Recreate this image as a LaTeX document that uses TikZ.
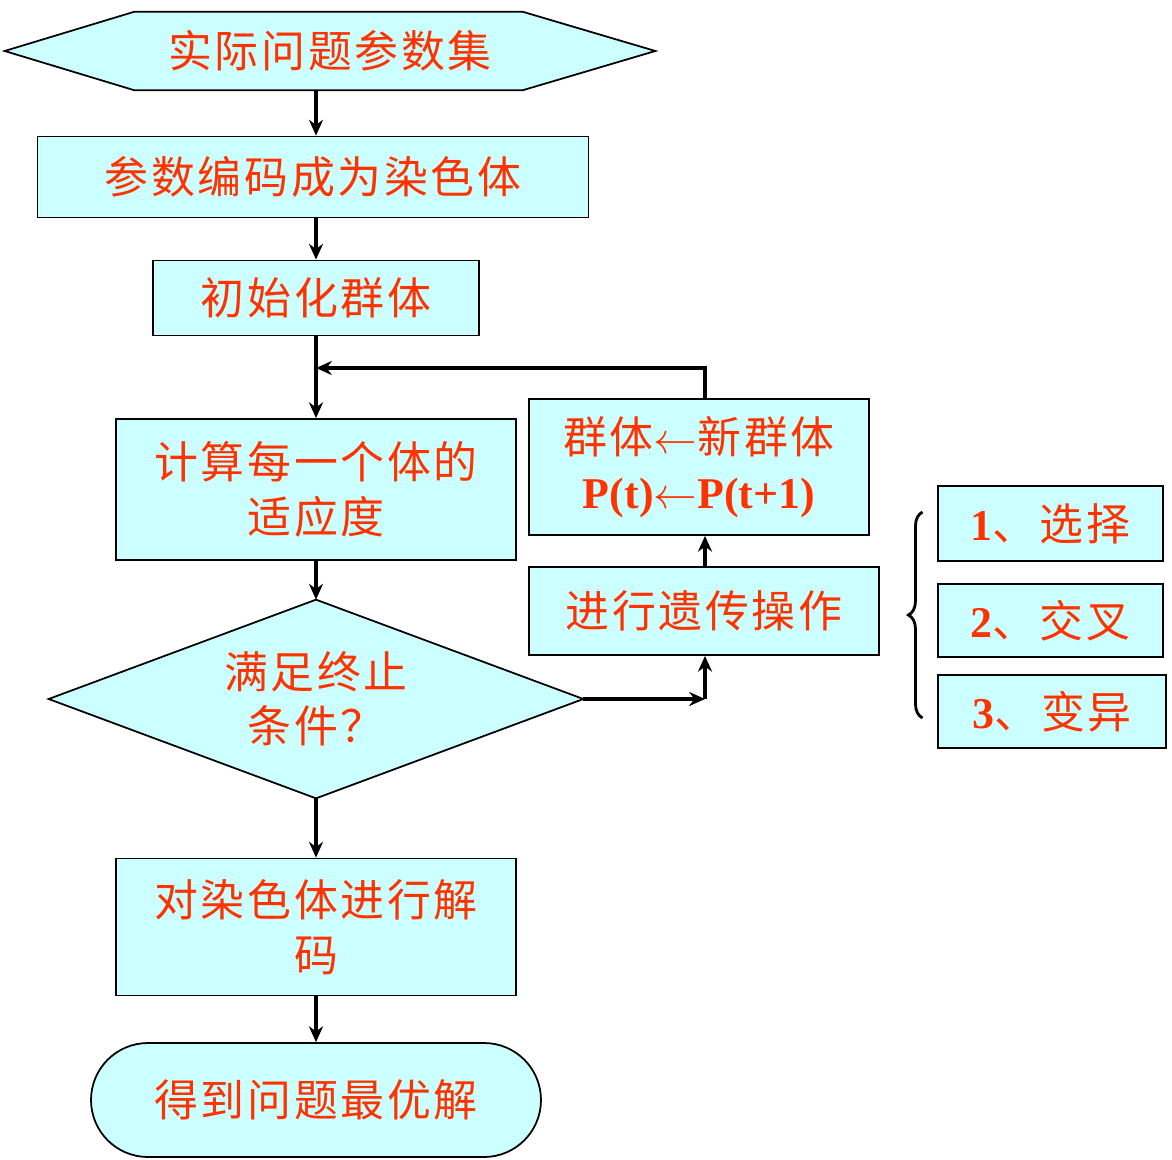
\documentclass[tikz,border=0pt]{standalone}
\usepackage{fontspec}
\setmainfont{Liberation Serif}
\newfontfamily\cjk[LetterSpace=6]{Noto Sans CJK SC}
\usetikzlibrary{arrows.meta, positioning, decorations.pathreplacing}
\definecolor{boxfill}{HTML}{CCFFFF}
\definecolor{txtred}{HTML}{FF3300}
\tikzstyle{stepbox}=[rectangle, draw=black, fill=boxfill, line width=1pt, text=txtred, align=center, font=\cjk\fontsize{25}{31}\selectfont]
\tikzstyle{bare}=[text=txtred, align=center, font=\cjk\fontsize{25}{31}\selectfont, inner sep=0pt]
\tikzstyle{flow}=[line width=2.2pt, -{Stealth[length=9pt,width=8pt]}]

\begin{document}
\begin{tikzpicture}
      \useasboundingbox (0,0) rectangle (23.44,-23.18);
      % main column
      \node[bare, minimum width=13cm, minimum height=1.56cm] (start) at (6.6,-1.02) {};
      \draw[fill=boxfill, line width=1pt] (start.west) -- ([xshift=2.6cm]start.north west) -- ([xshift=-2.66cm]start.north east)
            -- (start.east) -- ([xshift=-2.66cm]start.south east) -- ([xshift=2.6cm]start.south west) -- cycle;
      \node[bare] at (start) {实际问题参数集};
      \node[stepbox, minimum width=11.02cm, minimum height=1.62cm] (code) at (6.26,-3.54) {参数编码成为染色体};
      \node[stepbox, minimum width=6.52cm, minimum height=1.5cm] (init) at (6.32,-5.96) {初始化群体};
      \node[stepbox, minimum width=8cm, minimum height=2.82cm] (fit) at (6.32,-9.79) {计算每一个体的\\适应度};
      \node[bare, minimum width=10.68cm, minimum height=3.96cm] (cond) at (6.32,-13.98) {};
      \draw[fill=boxfill, line width=1pt] (cond.west) -- (cond.north) -- (cond.east) -- (cond.south) -- cycle;
      \node[bare] at (cond) {满足终止\\条件？};
      \node[stepbox, minimum width=8cm, minimum height=2.74cm] (dec) at (6.32,-18.54) {对染色体进行解\\码};
      \node[stepbox, minimum width=9cm, minimum height=2.28cm, rounded corners=1.14cm] (best) at (6.32,-22) {得到问题最优解};

      % right column
      \node[stepbox, minimum width=6.8cm, minimum height=2.72cm] (swap) at (13.98,-9.34)
            {群体{\rmfamily$\leftarrow$}新群体\\{\rmfamily\bfseries P(t)$\leftarrow$P(t+1)}};
      \node[stepbox, minimum width=7cm, minimum height=1.76cm] (gen) at (14.08,-12.22) {进行遗传操作};
      \node[stepbox, minimum width=4.5cm, minimum height=1.5cm] (sel) at (21.01,-10.47) {{\rmfamily\bfseries 1}、选择};
      \node[stepbox, minimum width=4.5cm, minimum height=1.46cm] (cross) at (21.01,-12.41) {{\rmfamily\bfseries 2}、交叉};
      \node[stepbox, minimum width=4.56cm, minimum height=1.46cm] (mut) at (21.04,-14.23) {{\rmfamily\bfseries 3}、变异};
      \draw[line width=1.6pt, decorate, decoration={brace, amplitude=8pt}] (18.45,-14.36) -- (18.45,-10.24);

      % connectors
      \draw[flow] (start.south -| init) -- (code.north -| init);
      \draw[flow] (code.south -| init) -- (init);
      \draw[flow] (init) -- (fit);
      \draw[flow] (fit) -- (cond);
      \draw[flow] (cond) -- (dec);
      \draw[flow] (dec) -- (best);
      \coordinate (turn) at (14.1,-13.98);
      \coordinate (loop) at (6.32,-7.36);
      \draw[flow] (cond.east) -- (turn);
      \draw[flow] (turn) -- (turn |- gen.south);
      \draw[flow] (gen.north -| turn) -- (turn |- swap.south);
      \draw[flow] (turn |- swap.north) -- (turn |- loop) -- (loop);
\end{tikzpicture}
\end{document}
